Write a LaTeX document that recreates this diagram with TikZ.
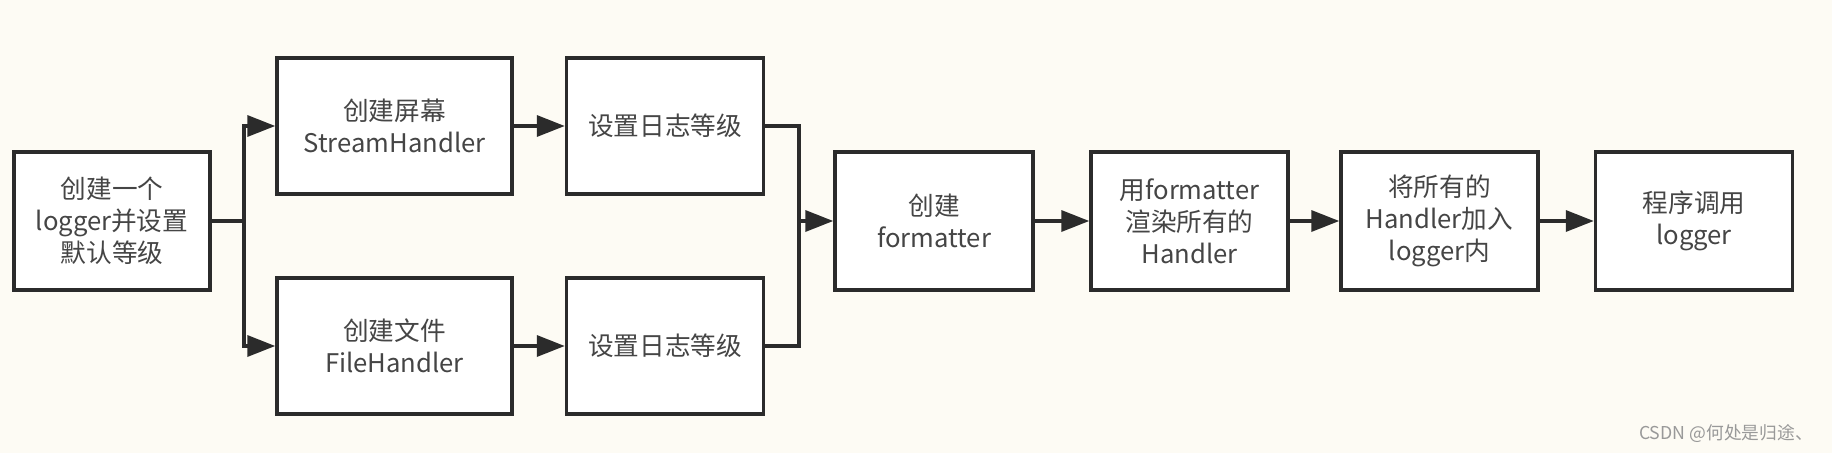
\documentclass[tikz,border=0pt]{standalone}
\usepackage{fontspec}
\newfontfamily\cjk{Noto Sans CJK SC}
\usetikzlibrary{arrows.meta}
\definecolor{paper}{HTML}{FDFBF4}
\definecolor{ink}{HTML}{2B2B2B}
\definecolor{txt}{HTML}{454545}
\tikzset{
	box/.style={draw=ink,line width=0.07cm,fill=white,text=txt,align=center,inner sep=0pt,
		minimum width=3.94cm,minimum height=2.76cm,font=\cjk\fontsize{14.6}{18.2}\selectfont},
	wide/.style={minimum width=4.7cm,minimum height=2.72cm},
	flow/.style={draw=ink,line width=0.07cm,-{Triangle[length=0.56cm,width=0.42cm]}},
	link/.style={draw=ink,line width=0.07cm}
}
\begin{document}
\begin{tikzpicture}[x=0.02cm,y=-0.02cm]
	\fill[paper] (0,0) rectangle (1832,453);
	\useasboundingbox (0,0) rectangle (1832,453);

	\node[box,minimum width=3.92cm](logger) at (112,221){创建一个\\logger并设置\\默认等级};
	\node[box,wide](stream) at (394.5,126){创建屏幕\\StreamHandler};
	\node[box,wide](file) at (394.5,346){创建文件\\FileHandler};
	\node[box,minimum height=2.72cm](levelA) at (665,126){设置日志等级};
	\node[box,minimum height=2.72cm](levelB) at (665,346){设置日志等级};
	\node[box,minimum width=3.96cm](fmt) at (934,221){创建\\formatter};
	\node[box](render) at (1189.5,221){用formatter\\渲染所有的\\Handler};
	\node[box](addh) at (1439.5,221){将所有的\\Handler加入\\logger内};
	\node[box](call) at (1694,221){程序调用\\logger};

	\coordinate(split) at (244,221);
	\coordinate(join) at (799,221);

	\draw[link]  (logger.east)--(split);
	\draw[flow]  (split)|-(stream.west);
	\draw[flow]  (split)|-(file.west);
	\draw[flow]  (stream)--(levelA);
	\draw[flow]  (file)--(levelB);
	\draw[link]  (levelA.east)-|(join);
	\draw[link]  (levelB.east)-|(join);
	\draw[flow]  (join)--(fmt.west);
	\draw[flow]  (fmt)--(render);
	\draw[flow]  (render)--(addh);
	\draw[flow]  (addh)--(call);

	\node[anchor=east,text=gray!80,font=\cjk\fontsize{10.1}{12}\selectfont](credit) at (1819,433){CSDN @何处是归途、};
\end{tikzpicture}
\end{document}
